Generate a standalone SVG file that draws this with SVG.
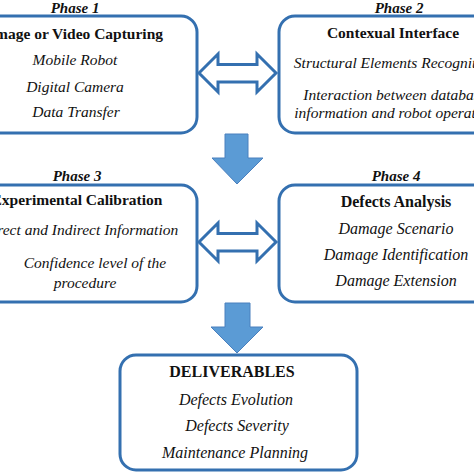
<svg xmlns="http://www.w3.org/2000/svg" width="474" height="474" viewBox="0 0 474 474">
<style>
.box{fill:#fff;stroke:#3470B0;stroke-width:3}
text{font-family:"Liberation Serif","Times New Roman",serif;font-size:15.5px;fill:#111;text-anchor:middle}
.ph{font-weight:bold;font-style:italic;font-size:15px}
.tt{font-weight:bold}
.it{font-style:italic}
.big{font-size:16px}
.dbl{fill:#fff;stroke:#3470B0;stroke-width:3;stroke-linejoin:miter}
.down{fill:#5B9BD5;stroke:#4A80BE;stroke-width:1}
</style>
<rect width="474" height="474" fill="#fff"/>
<g id="phase1">
<text class="ph" x="75" y="13">Phase 1</text>
<rect class="box" x="-47" y="16" width="244" height="117" rx="16"/>
<text class="tt" x="76" y="39">Image or Video Capturing</text>
<text class="it" x="75" y="65">Mobile Robot</text>
<text class="it" x="75" y="92">Digital Camera</text>
<text class="it" x="76" y="117">Data Transfer</text>
</g>
<g id="phase2">
<text class="ph" x="399" y="13">Phase 2</text>
<rect class="box" x="279" y="16" width="240" height="117" rx="16"/>
<text class="tt" x="393" y="38">Contexual Interface</text>
<text class="it" x="395" y="68">Structural Elements Recognition</text>
<text class="it" x="395" y="100">Interaction between database</text>
<text class="it" x="395" y="118">information and robot operation</text>
</g>
<g id="phase3">
<text class="ph" x="77" y="181">Phase 3</text>
<rect class="box" x="-47" y="185" width="244" height="117" rx="16"/>
<text class="tt" x="77" y="205">Experimental Calibration</text>
<text class="it" x="80" y="235">Direct and Indirect Information</text>
<text class="it" x="95" y="268">Confidence level of the</text>
<text class="it" x="85" y="288">procedure</text>
</g>
<g id="phase4">
<text class="ph" x="396" y="181">Phase 4</text>
<rect class="box" x="279" y="185" width="240" height="117" rx="16"/>
<text class="tt big" x="396" y="207">Defects Analysis</text>
<text class="it big" x="396" y="234">Damage Scenario</text>
<text class="it big" x="396" y="260">Damage Identification</text>
<text class="it big" x="396" y="286">Damage Extension</text>
</g>
<g id="deliverables">
<rect class="box" x="120" y="355" width="237" height="115" rx="16"/>
<text class="tt big" x="232" y="377">DELIVERABLES</text>
<text class="it big" x="236" y="405">Defects Evolution</text>
<text class="it big" x="237" y="431">Defects Severity</text>
<text class="it big" x="235" y="458">Maintenance Planning</text>
</g>
<g id="connectors">
<polygon class="dbl" points="199,73 218,54 218,64.5 257,64.5 257,54 276,73 257,92 257,82 218,82 218,92"/>
<polygon class="dbl" points="199,242 218,223 218,233.5 257,233.5 257,223 276,242 257,261 257,251 218,251 218,261"/>
<polygon class="down" points="225,134 248,134 248,158 263,158 237,184 212,158 225,158"/>
<polygon class="down" points="225,303 250,303 250,327 263,327 237,353 211,327 225,327"/>
</g>
</svg>
